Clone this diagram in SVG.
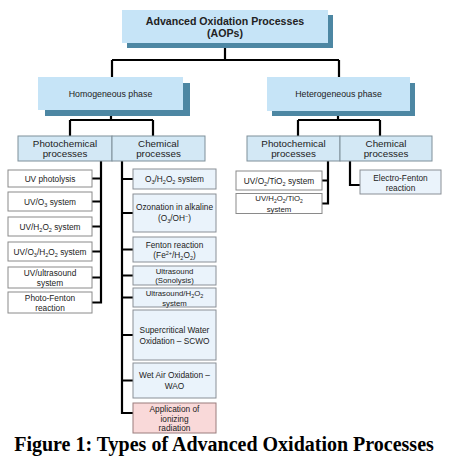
<svg xmlns="http://www.w3.org/2000/svg" width="453" height="466" viewBox="0 0 453 466">
<style>
text{font-family:"Liberation Sans",Arial,sans-serif;fill:#222;text-anchor:middle}
.t{font-size:8.3px}
.s{font-size:7.8px}
.h{font-size:9.8px}
.p{font-size:8.8px}
.ti{font-size:10.6px;font-weight:bold}
.cap{font-family:"Liberation Serif","Times New Roman",serif;font-size:20px;font-weight:bold;fill:#000}
.sh{fill:#4d87a3}
.top{fill:#c6e4f7}
.hdr{fill:#d3e8f5;stroke:#7f8f99;stroke-width:1}
.w{fill:#fff;stroke:#8a8a8a;stroke-width:1}
.lb{fill:#eaf3fb;stroke:#8a8f96;stroke-width:1}
.pk{fill:#f9d9d9;stroke:#9a7d7d;stroke-width:1}
.c{fill:none;stroke:#000;stroke-width:2.2}
</style>
<rect width="453" height="466" fill="#fff"/>
<g id="connectors">
<path class="c" d="M225 43V60M112 60H339M112 60V77M339 60V77"/>
<path class="c" d="M111 110V120M70 120H153M70 120V136M153 120V136"/>
<path class="c" d="M338 111V120M298 120H380M298 120V136M380 120V136"/>
<path class="c" d="M101 161V303.5M92 178.5H101M92 201.5H101M92 226.5H101M92 251.5H101M92 277.5H101M92 302.5H101"/>
<path class="c" d="M122 161V414M122 179H133M122 213H133M122 249.5H133M122 275.5H133M122 297.5H133M122 335H133M122 380.5H133M122 413H133"/>
<path class="c" d="M328 161V204.5M322 180.5H328M322 203.5H328"/>
<path class="c" d="M350 161V185H360"/>
</g>
<g id="aops">
<rect class="sh" x="127" y="15" width="206" height="33"/>
<rect class="top" x="122" y="10" width="206" height="33"/>
<text class="ti" x="225" y="25">Advanced Oxidation Processes</text>
<text class="ti" x="225" y="37">(AOPs)</text>
</g>
<g id="homogeneous">
<rect class="sh" x="45" y="83" width="145" height="33"/>
<rect class="top" x="38" y="77" width="145" height="33"/>
<text class="p" x="110.5" y="97">Homogeneous phase</text>
</g>
<g id="heterogeneous">
<rect class="sh" x="272" y="83" width="143" height="33"/>
<rect class="top" x="267" y="77" width="143" height="34"/>
<text class="p" x="338.5" y="97">Heterogeneous phase</text>
</g>
<g id="homo-photochemical">
<rect class="hdr" x="18" y="136" width="94" height="25"/>
<text class="h" x="65" y="147">Photochemical</text>
<text class="h" x="65" y="157">processes</text>
</g>
<g id="homo-chemical">
<rect class="hdr" x="112" y="136" width="93" height="25"/>
<text class="h" x="158.5" y="147">Chemical</text>
<text class="h" x="158.5" y="157">processes</text>
</g>
<g id="hetero-photochemical">
<rect class="hdr" x="247" y="136" width="93" height="25"/>
<text class="h" x="293.5" y="147">Photochemical</text>
<text class="h" x="293.5" y="157">processes</text>
</g>
<g id="hetero-chemical">
<rect class="hdr" x="340" y="136" width="92" height="25"/>
<text class="h" x="386" y="147">Chemical</text>
<text class="h" x="386" y="157">processes</text>
</g>
<g id="uv-photolysis">
<rect class="w" x="8" y="170" width="84" height="17"/>
<text class="t" x="50" y="181.5">UV photolysis</text>
</g>
<g id="uv-o3">
<rect class="w" x="8" y="192" width="84" height="19"/>
<text class="t" x="50" y="204.5">UV/O<tspan font-size="5.5" dy="2">3</tspan><tspan dy="-2"> system</tspan></text>
</g>
<g id="uv-h2o2">
<rect class="w" x="8" y="217" width="84" height="19"/>
<text class="t" x="50" y="229.5">UV/H<tspan font-size="5.5" dy="2">2</tspan><tspan dy="-2">O</tspan><tspan font-size="5.5" dy="2">2</tspan><tspan dy="-2"> system</tspan></text>
</g>
<g id="uv-o3-h2o2">
<rect class="w" x="8" y="242" width="84" height="19"/>
<text class="t" x="50" y="254.5">UV/O<tspan font-size="5.5" dy="2">3</tspan><tspan dy="-2">/H</tspan><tspan font-size="5.5" dy="2">2</tspan><tspan dy="-2">O</tspan><tspan font-size="5.5" dy="2">2</tspan><tspan dy="-2"> system</tspan></text>
</g>
<g id="uv-ultrasound">
<rect class="w" x="8" y="267" width="84" height="21"/>
<text class="t" x="50" y="276">UV/ultrasound</text>
<text class="t" x="50" y="285.5">system</text>
</g>
<g id="photo-fenton">
<rect class="w" x="8" y="292" width="84" height="21"/>
<text class="t" x="50" y="301">Photo-Fenton</text>
<text class="t" x="50" y="310.5">reaction</text>
</g>
<g id="o3-h2o2">
<rect class="lb" x="133" y="169" width="83" height="20"/>
<text class="t" x="174.5" y="182">O<tspan font-size="5.5" dy="2">3</tspan><tspan dy="-2">/H</tspan><tspan font-size="5.5" dy="2">2</tspan><tspan dy="-2">O</tspan><tspan font-size="5.5" dy="2">2</tspan><tspan dy="-2"> system</tspan></text>
</g>
<g id="ozonation">
<rect class="lb" x="133" y="194" width="83" height="38"/>
<text class="t" x="174.5" y="210">Ozonation in alkaline</text>
<text class="t" x="174.5" y="221">(O<tspan font-size="5.5" dy="2">3</tspan><tspan dy="-2">/OH</tspan><tspan font-size="5.5" dy="-3">−</tspan><tspan dy="3">)</tspan></text>
</g>
<g id="fenton">
<rect class="lb" x="133" y="237" width="83" height="25"/>
<text class="t" x="174.5" y="247.5">Fenton reaction</text>
<text class="t" x="174.5" y="258">(Fe<tspan font-size="5.5" dy="-3">2+</tspan><tspan dy="3">/H</tspan><tspan font-size="5.5" dy="2">2</tspan><tspan dy="-2">O</tspan><tspan font-size="5.5" dy="2">2</tspan><tspan dy="-2">)</tspan></text>
</g>
<g id="ultrasound">
<rect class="lb" x="133" y="266" width="83" height="19"/>
<text class="s" x="174.5" y="273.5">Ultrasound</text>
<text class="s" x="174.5" y="283">(Sonolysis)</text>
</g>
<g id="ultrasound-h2o2">
<rect class="lb" x="133" y="288" width="83" height="19"/>
<text class="s" x="174.5" y="295.5">Ultrasound/H<tspan font-size="5.5" dy="2">2</tspan><tspan dy="-2">O</tspan><tspan font-size="5.5" dy="2">2</tspan></text>
<text class="s" x="174.5" y="305.5">system</text>
</g>
<g id="scwo">
<rect class="lb" x="133" y="310" width="83" height="50"/>
<text class="t" x="174.5" y="333">Supercritical Water</text>
<text class="t" x="174.5" y="344">Oxidation – SCWO</text>
</g>
<g id="wao">
<rect class="lb" x="133" y="363" width="83" height="35"/>
<text class="t" x="174.5" y="378">Wet Air Oxidation –</text>
<text class="t" x="174.5" y="389">WAO</text>
</g>
<g id="ionizing">
<rect class="pk" x="133" y="403" width="83" height="30"/>
<text class="t" x="174.5" y="412">Application of</text>
<text class="t" x="174.5" y="421.5">ionizing</text>
<text class="t" x="174.5" y="431">radiation</text>
</g>
<g id="uv-o2-tio2">
<rect class="w" x="236" y="171" width="86" height="19"/>
<text class="t" x="279" y="183.5">UV/O<tspan font-size="5.5" dy="2">2</tspan><tspan dy="-2">/TiO</tspan><tspan font-size="5.5" dy="2">2</tspan><tspan dy="-2"> system</tspan></text>
</g>
<g id="uv-h2o2-tio2">
<rect class="w" x="236" y="193.5" width="86" height="20"/>
<text class="s" x="279" y="201">UV/H<tspan font-size="5" dy="1.5">2</tspan><tspan dy="-1.5">O</tspan><tspan font-size="5" dy="1.5">2</tspan><tspan dy="-1.5">/TiO</tspan><tspan font-size="5" dy="1.5">2</tspan></text>
<text class="s" x="279" y="211.5">system</text>
</g>
<g id="electro-fenton">
<rect class="lb" x="360" y="170" width="81" height="24"/>
<text class="t" x="400.5" y="180.5">Electro-Fenton</text>
<text class="t" x="400.5" y="190.5">reaction</text>
</g>
<text class="cap" x="224" y="451">Figure 1: Types of Advanced Oxidation Processes</text>
</svg>
